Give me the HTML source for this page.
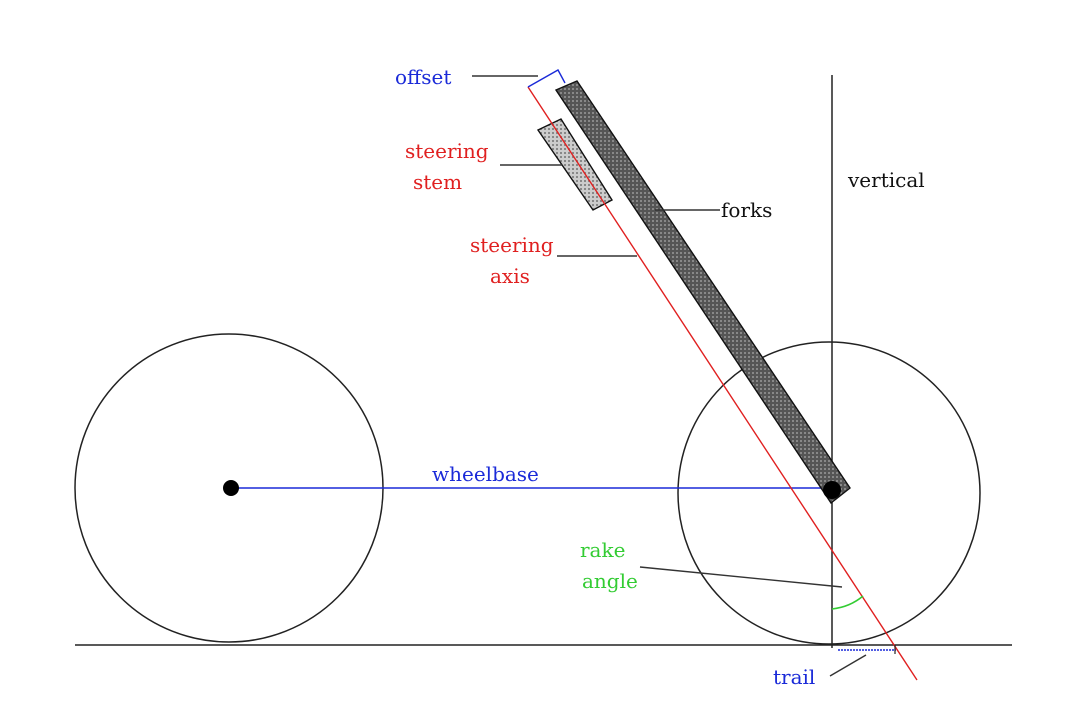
<!DOCTYPE html>
<html><head><style>
html,body{margin:0;padding:0;background:#fff;}
svg{display:block;}
text{font-family:"DejaVu Serif","Liberation Serif",serif;font-size:20px;}
</style></head><body>
<svg width="1068" height="706" viewBox="0 0 1068 706" xmlns="http://www.w3.org/2000/svg">
<defs>
<pattern id="p1" width="4" height="4" patternUnits="userSpaceOnUse"><rect width="4" height="4" fill="#555"/><rect width="2" height="2" fill="#888"/></pattern>
<pattern id="p2" width="4" height="4" patternUnits="userSpaceOnUse"><rect width="4" height="4" fill="#ccc"/><rect width="2" height="2" fill="#888"/></pattern>
</defs>
<circle cx="229" cy="488" r="154" fill="none" stroke="#222" stroke-width="1.5"/>
<circle cx="829" cy="493" r="151" fill="none" stroke="#222" stroke-width="1.5"/>
<line x1="75" y1="645" x2="1012" y2="645" stroke="#222" stroke-width="1.5"/>
<line x1="832" y1="75" x2="832" y2="648" stroke="#222" stroke-width="1.5"/>
<line x1="230" y1="488" x2="832" y2="488" stroke="#1a2ad8" stroke-width="1.6"/>
<polygon points="556,90 577,81 850,488 831,503" fill="url(#p1)" stroke="#111" stroke-width="1.4"/>
<polygon points="538,130 561,119 612,200 593,210" fill="url(#p2)" stroke="#111" stroke-width="1.4"/>
<line x1="528" y1="87" x2="917" y2="680" stroke="#e02020" stroke-width="1.4"/>
<polyline points="528,87 558,70 565,83" fill="none" stroke="#1a2ad8" stroke-width="1.4"/>
<circle cx="231" cy="488" r="8" fill="#000"/>
<circle cx="832" cy="490" r="9" fill="#000"/>
<line x1="838" y1="650" x2="896" y2="650" stroke="#1a2ad8" stroke-width="1.6" stroke-dasharray="2,1"/>
<line x1="895" y1="645" x2="895" y2="654" stroke="#222" stroke-width="1.2"/>
<path d="M832,609 Q850,607 863,596" fill="none" stroke="#3c3" stroke-width="1.6"/>
<g stroke="#333" stroke-width="1.4">
<line x1="472" y1="76" x2="538" y2="76"/>
<line x1="500" y1="165" x2="562" y2="165"/>
<line x1="557" y1="256" x2="637" y2="256"/>
<line x1="655" y1="210" x2="720" y2="210"/>
<line x1="640" y1="567" x2="842" y2="587"/>
<line x1="830" y1="676" x2="866" y2="655"/>
</g>
<text x="395" y="84" fill="#1a2ad8">offset</text>
<text x="405" y="158" fill="#e02020">steering</text>
<text x="413" y="189" fill="#e02020">stem</text>
<text x="470" y="252" fill="#e02020">steering</text>
<text x="490" y="283" fill="#e02020">axis</text>
<text x="721" y="217" fill="#111">forks</text>
<text x="848" y="187" fill="#111">vertical</text>
<text x="432" y="481" fill="#1a2ad8">wheelbase</text>
<text x="580" y="557" fill="#3c3">rake</text>
<text x="582" y="588" fill="#3c3">angle</text>
<text x="773" y="684" fill="#1a2ad8">trail</text>
</svg>
</body></html>
